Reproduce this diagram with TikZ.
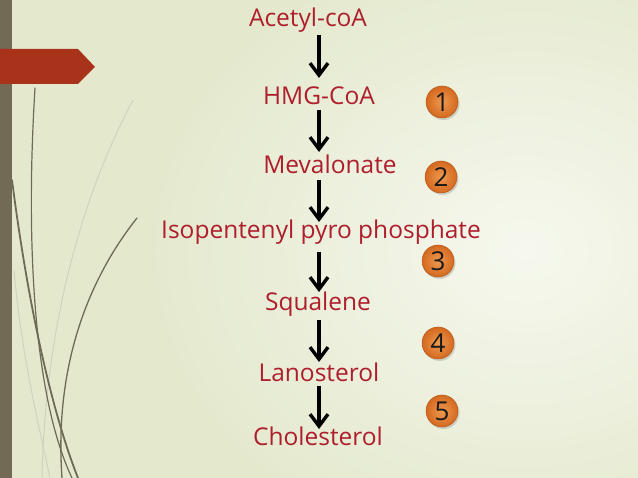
\documentclass[tikz,border=0pt]{standalone}
\usepackage{fontspec}
\setmainfont{Open Sans}
\usetikzlibrary{arrows.meta,shadows}
\definecolor{bgA}{HTML}{E4E9CE}
\definecolor{bgB}{HTML}{F6F8EE}
\definecolor{strip}{HTML}{736A55}
\definecolor{banner}{HTML}{A8321A}
\definecolor{txtred}{HTML}{AE1E2C}
\definecolor{grassD}{HTML}{6E6A55}
\definecolor{grassL}{HTML}{CFD3BE}
\definecolor{orA}{HTML}{EE9A50}
\definecolor{orB}{HTML}{D4691F}
\tikzset{
  stepname/.style={text=txtred,font=\fontsize{24.5}{27}\selectfont,inner sep=0pt,anchor=center},
  flowarrow/.style={line width=3.8pt,-{Straight Barb[length=12pt,width=18pt,line width=3.4pt]},black},
  numball/.style={circle,minimum size=32pt,inner sep=0pt,draw=orB!85!black,line width=0.5pt,
    inner color=orA,outer color=orB,text=black!90,font=\fontsize{26}{27}\selectfont,
    drop shadow={shadow xshift=1.5pt,shadow yshift=-2pt,opacity=0.3}},
  grass/.style={grassD,line width=1.6pt,line cap=round}
}
\begin{document}
\begin{tikzpicture}[x=1pt,y=-1pt]
\useasboundingbox (0,0) rectangle (638,478);
% background
\fill[bgA] (0,0) rectangle (638,478);
\shade[inner color=bgB,outer color=bgA] (150,-60) rectangle (900,560);
% grass curves
\draw[grassL,line width=1pt] (133,100) .. controls (80,200) and (45,330) .. (42,478);
\draw[grassL,line width=1pt] (14,270) .. controls (22,360) and (40,430) .. (50,478);
\draw[grass,line width=1.2pt] (35,88) .. controls (25,250) and (35,400) .. (72,478);
\draw[grass,line width=1.8pt] (12,180) .. controls (30,320) and (55,420) .. (78,478);
\draw[grass,line width=1.3pt] (137,218) .. controls (80,290) and (55,380) .. (62,478);
% left strip
\fill[strip] (0,0) rectangle (12,478);
% banner
\fill[banner] (0,49) -- (78,49) -- (95,67) -- (78,84) -- (0,84) -- cycle;
% steps
\node[stepname] (a) at (308,20) {Acetyl-coA};
\node[stepname] (b) at (319,96) {HMG-CoA};
\node[stepname] (c) at (330,164) {Mevalonate};
\node[stepname] (d) at (321,232) {Isopentenyl pyro phosphate};
\node[stepname] (e) at (318,304) {Squalene};
\node[stepname] (f) at (319,372) {Lanosterol};
\node[stepname] (g) at (318,436) {Cholesterol};
% arrows
\coordinate (a1) at (319,35); \coordinate (a2) at (319,78);
\coordinate (b1) at (319,110); \coordinate (b2) at (319,152);
\coordinate (c1) at (319,180); \coordinate (c2) at (319,222);
\coordinate (d1) at (319,252); \coordinate (d2) at (319,292);
\coordinate (e1) at (319,320); \coordinate (e2) at (319,362);
\coordinate (f1) at (319,386); \coordinate (f2) at (319,429);
\draw[flowarrow] (a1) -- (a2);
\draw[flowarrow] (b1) -- (b2);
\draw[flowarrow] (c1) -- (c2);
\draw[flowarrow] (d1) -- (d2);
\draw[flowarrow] (e1) -- (e2);
\draw[flowarrow] (f1) -- (f2);
% numbers
\node[numball] (n1) at (442,102) {1};
\node[numball] (n2) at (441,177) {2};
\node[numball] (n3) at (438,261) {3};
\node[numball] (n4) at (438,343) {4};
\node[numball] (n5) at (442,411) {5};
\end{tikzpicture}
\end{document}
